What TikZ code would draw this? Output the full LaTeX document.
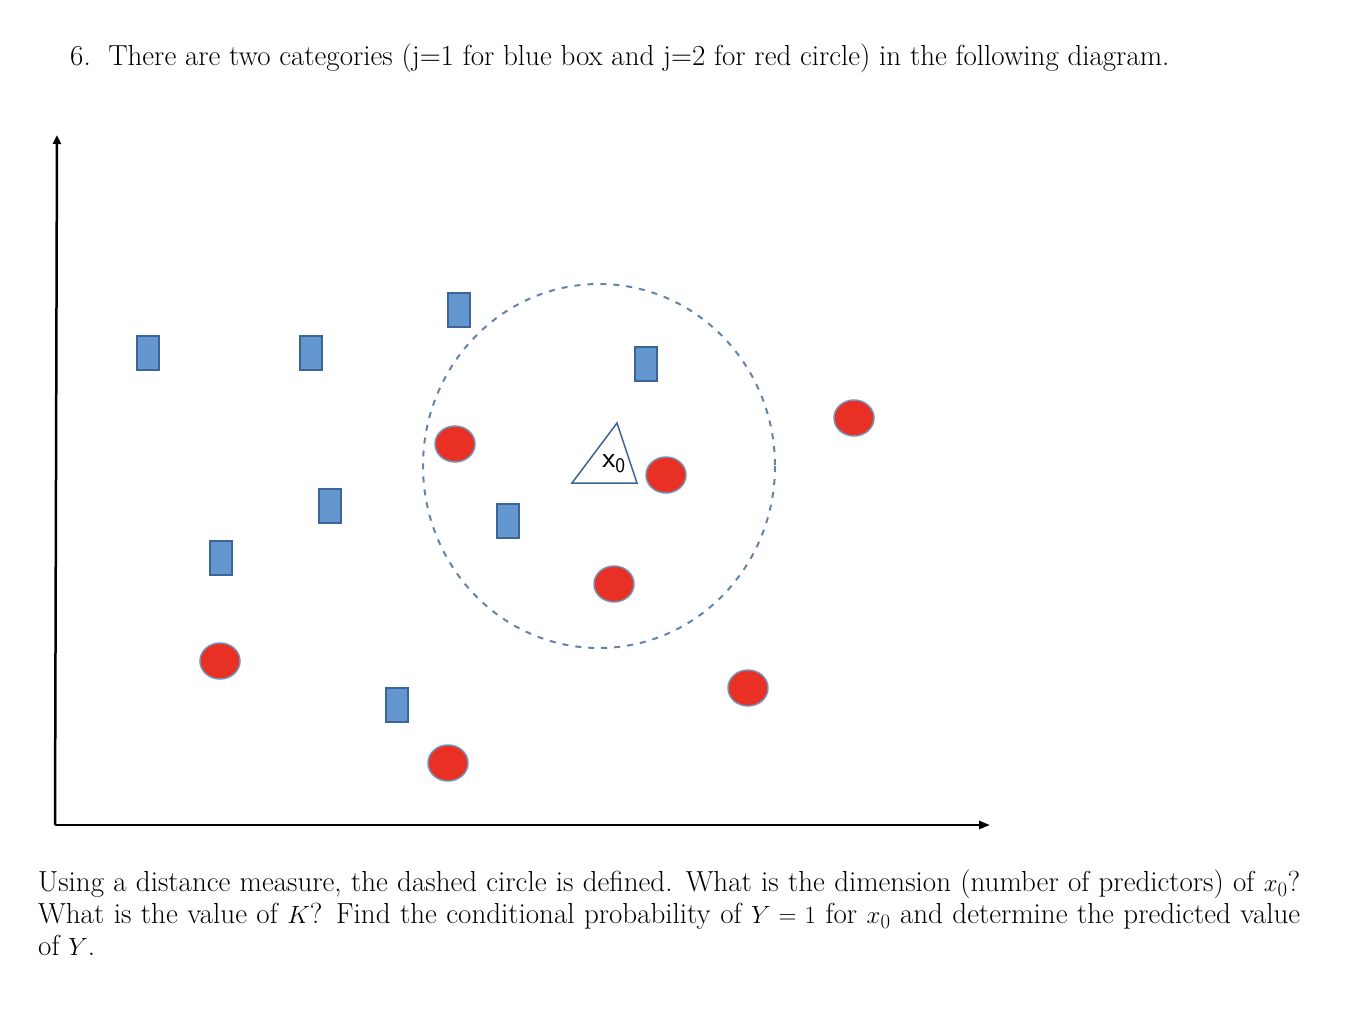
\documentclass[tikz,border=0pt]{standalone}
\usepackage{amsmath}
\usetikzlibrary{arrows.meta}
\definecolor{boxblue}{RGB}{99,150,206}
\definecolor{boxedge}{RGB}{60,100,150}
\definecolor{dotred}{RGB}{232,48,36}
\tikzset{bbox/.style={draw=boxedge,fill=boxblue,line width=1.5pt,minimum width=22pt,minimum height=34pt,inner sep=0pt},
rdot/.style={draw=boxedge!70,fill=dotred,line width=1.5pt,ellipse,minimum width=40pt,minimum height=36pt,inner sep=0pt},
txt/.style={anchor=base west,inner sep=0pt,font=\fontsize{29}{32}\selectfont}}
\usetikzlibrary{shapes.geometric}
\begin{document}
\begin{tikzpicture}[x=1pt,y=-1pt]
\useasboundingbox (0,0) rectangle (1370,1018);
\node[txt] (title) at (70,65) {6.\ \ There are two categories (j=1 for blue box and j=2 for red circle) in the following diagram.};
\coordinate (o) at (55,825);
\coordinate (ytop) at (57,135);
\coordinate (xend) at (990,825);
\draw[line width=2.5pt,-{Triangle[length=9pt,width=8pt]}] (o) -- (ytop);
\draw[line width=2.5pt,-{Triangle[length=11pt,width=8pt]}] (o) -- (xend);
\draw[boxedge!80,line width=2pt,dash pattern=on 6pt off 7pt] (599,466) ellipse [x radius=176, y radius=182];
\foreach \n/\p in {b1/{148,353},b2/{311,353},b3/{459,310},b4/{646,364},b5/{330,506},b6/{508,521},b7/{221,558},b8/{397,705}}
  \node[bbox] (\n) at (\p) {};
\foreach \n/\p in {r1/{455,444},r2/{666,475},r3/{854,418},r4/{614,584},r5/{220,661},r6/{748,688},r7/{448,763}}
  \node[rdot] (\n) at (\p) {};
\draw[boxedge,line width=1.5pt] (572,483) -- (637,483) -- (617,423) -- cycle;
\node[font=\sffamily\fontsize{30}{30}\selectfont,inner sep=0pt] (x0) at (614,464) {x$_{\mathsf 0}$};
\node[txt,text width=1262pt,align=justify,anchor=north west] (q) at (38,870) {Using a distance measure, the dashed circle is defined. What is the dimension (number of predictors) of $x_0$? What is the value of $K$? Find the conditional probability of $Y=1$ for $x_0$ and determine the predicted value of $Y$.};
\end{tikzpicture}
\end{document}
